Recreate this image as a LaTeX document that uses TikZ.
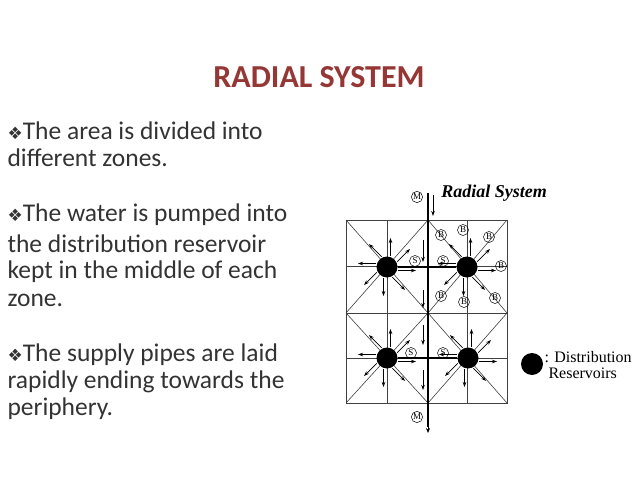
\documentclass[tikz,border=0pt]{standalone}
\usepackage{fontspec}
\setmainfont{Carlito}
\newfontfamily\serfont{Liberation Serif}
\newfontfamily\symfont{DejaVu Sans}
\usetikzlibrary{arrows.meta}
\begin{document}
\begin{tikzpicture}[x=1pt,y=-1pt,
  grid/.style={line width=0.6pt,black!75},
  main/.style={line width=1.8pt},
  arr/.style={line width=0.7pt,-{Stealth[length=5pt,width=3.5pt]}},
  lab/.style={circle,draw,line width=0.5pt,inner sep=0.5pt,minimum size=11pt,font=\serfont\fontsize{9}{9}\selectfont},
  res/.style={circle,fill=black,minimum size=21pt,inner sep=0pt},
  body/.style={anchor=west,font=\fontsize{25.5}{26}\selectfont,text=black!80}]
\useasboundingbox (0,0) rectangle (638,479);
\node at (319,77) {\fontsize{32}{32}\selectfont\bfseries\color[HTML]{953735}RADIAL SYSTEM};
\newcommand\bul{{\symfont\fontsize{17}{17}\selectfont ❖}}
\node[body] at (4,131) {\bul The area is divided into};
\node[body] at (4,158) {different zones.};
\node[body] at (4,215) {\bul The water is pumped into};
\node[body] at (4,244) {the distribution reservoir};
\node[body] at (4,272) {kept in the middle of each};
\node[body] at (4,300) {zone.};
\node[body] at (4,355) {\bul The supply pipes are laid};
\node[body] at (4,382) {rapidly ending towards the};
\node[body] at (4,409) {periphery.};
% grid
\foreach \xa/\xb/\ya/\yb in {346/428/220/313, 428/507/220/313, 346/428/313/403, 428/507/313/403}{
  \draw[grid] (\xa,\ya) rectangle (\xb,\yb);
  \draw[grid] (\xa,\ya) -- (\xb,\yb) (\xa,\yb) -- (\xb,\ya);
  \draw[grid] ({(\xa+\xb)/2},\ya) -- ({(\xa+\xb)/2},\yb) (\xa,{(\ya+\yb)/2}) -- (\xb,{(\ya+\yb)/2});
}
\node[res] (r1) at (387,267) {};
\node[res] (r2) at (467,267) {};
\node[res] (r3) at (387,358) {};
\node[res] (r4) at (468,358) {};
\coordinate (mt) at (428,193);
\coordinate (mb) at (428,427);
\draw[main] (mt) -- (mb);
\draw[line width=0.7pt,-{Stealth[length=5pt,width=4pt]}] (mb) -- ++(0,6);
\draw[arr] (433,195) -- (433,216);
\draw[main] (r1) -- (r2);
\draw[main] (r3) -- (r4);
\foreach \r in {r1,r2,r3,r4}{
  \foreach \a in {0,45,...,315}{
    \draw[arr] ([shift={(\a:11)}]\r.center) ++(\a+90:3.5) -- ++(\a:18);
  }
}
\draw[arr] (423,240) -- (423,262);
\draw[arr] (423,290) -- (423,308);
\draw[arr] (423,325) -- (423,345);
\draw[arr] (423,370) -- (423,390);
\node[lab] at (417,197) {M};
\node[lab] at (417,417) {M};
\node[lab] at (415,261) {S};
\node[lab] at (443,261) {S};
\node[lab] at (411,353) {S};
\node[lab] at (443,353) {S};
\foreach \p in {(441,235),(463,230),(489,237),(501,266),(495,298),(464,302),(441,296)}
  \node[lab] at \p {B};
\node[font=\serfont\bfseries\itshape\fontsize{18}{18}\selectfont] at (494,193) {Radial System};
\node[res,minimum size=22pt] (leg) at (532,364) {};
\node[anchor=west,font=\serfont\fontsize{16}{16}\selectfont] at (541,357) {: Distribution};
\node[anchor=west,font=\serfont\fontsize{16}{16}\selectfont] at (545,373) {Reservoirs};
\end{tikzpicture}
\end{document}
